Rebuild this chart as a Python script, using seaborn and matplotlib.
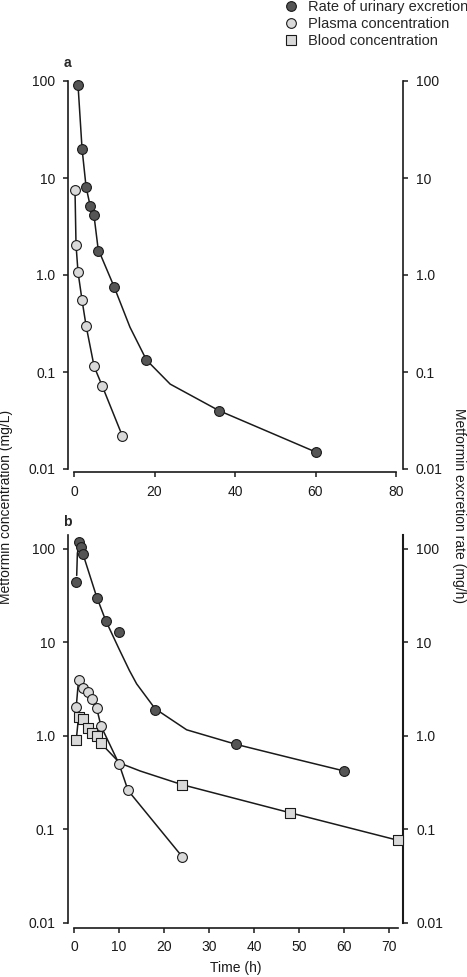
import numpy as np
import pandas as pd
import seaborn as sns
import matplotlib.pyplot as plt
from matplotlib.lines import Line2D
from matplotlib.ticker import FixedLocator, FixedFormatter, NullLocator

# ---- panel a : measured points
a_urine_t = [1, 2, 3, 4, 5, 6, 10, 18, 36, 60]
a_urine_rate = [91, 20, 8.1, 5.2, 4.2, 1.78, 0.75, 0.133, 0.040, 0.015]
a_plasma_t = [0.25, 0.5, 1, 2, 3, 5, 7, 12]
a_plasma_conc = [7.5, 2.05, 1.07, 0.55, 0.30, 0.114, 0.072, 0.022]
# panel a : fitted curve
a_urine_fit_t = [1, 2, 3, 4, 5, 6, 10, 13.9, 18, 23.9, 36, 60]
a_urine_fit = [91, 20, 8.1, 5.2, 4.0, 1.85, 0.75, 0.29, 0.133, 0.075, 0.040, 0.015]

# ---- panel b : measured points
b_urine_t = [0.5, 1, 1.5, 2, 5, 7, 10, 18, 36, 60]
b_urine_rate = [44, 120, 104, 88, 30, 17, 13, 1.9, 0.81, 0.42]
b_plasma_t = [0.5, 1, 2, 3, 4, 5, 6, 10, 12, 24]
b_plasma_conc = [2.05, 3.95, 3.24, 2.96, 2.45, 2.0, 1.27, 0.50, 0.26, 0.051]
b_blood_t = [0.5, 1, 2, 3, 4, 5, 6, 24, 48, 72]
b_blood_conc = [0.90, 1.59, 1.50, 1.20, 1.06, 1.0, 0.83, 0.30, 0.15, 0.076]
# panel b : fitted curves
b_urine_fit_t = [0.6, 0.75, 1.2, 2, 5, 7, 10, 12.3, 13.9, 18, 25, 36, 49.4, 60]
b_urine_fit = [52, 90, 118, 88, 31, 17.3, 8.5, 5.0, 3.6, 1.95, 1.16, 0.81, 0.56, 0.42]
b_blood_fit_t = [0.5, 1, 2, 3, 4, 5, 6, 10.2, 14.7, 24, 48, 72]
b_blood_fit = [0.9, 1.59, 1.5, 1.2, 1.06, 1.0, 0.83, 0.51, 0.42, 0.30, 0.15, 0.076]

ytick_vals = [0.01, 0.1, 1, 10, 100]
ytick_labels = ["0.01", "0.1", "1.0", "10", "100"]

DARK = "#555555"
LIGHT = "#d9d9d9"
EDGE = "#1a1a1a"

sns.set_style("ticks")
plt.rcParams['font.family'] = ['Liberation Sans', 'DejaVu Sans']
plt.rcParams['axes.linewidth'] = 1.2

W, H = 467, 977
fig = plt.figure(figsize=(W / 100, H / 100), dpi=100)


def px_axes(left, right, top, bottom):
    return fig.add_axes([left / W, 1 - bottom / H, (right - left) / W, (bottom - top) / H])


def style(ax, xlim, ylim, xticks, out_left, out_bottom, out_right, ybounds):
    ax.set_yscale('log')
    ax.set_xlim(*xlim)
    ax.set_ylim(*ylim)
    ax.yaxis.set_major_locator(FixedLocator(ytick_vals))
    ax.yaxis.set_major_formatter(FixedFormatter(ytick_labels))
    ax.yaxis.set_minor_locator(NullLocator())
    ax.set_xticks(xticks)
    ax.spines['top'].set_visible(False)
    ax.spines['left'].set_position(('outward', out_left))
    ax.spines['bottom'].set_position(('outward', out_bottom))
    ax.spines['right'].set_position(('outward', out_right))
    ax.spines['left'].set_bounds(*ybounds)
    ax.spines['right'].set_bounds(*ybounds)
    ax.spines['bottom'].set_bounds(xlim[0], xlim[1])
    for s in ('left', 'right', 'bottom'):
        ax.spines[s].set_color('#1a1a1a')
    ax.tick_params(axis='both', direction='out', length=3.6, width=1.1, pad=5.5,
                   labelsize=10, colors='#1a1a1a')
    ax.tick_params(axis='y', right=True, labelright=True)
    ax.set_xlabel("")
    ax.set_ylabel("")
    ax.patch.set_alpha(0)


def curve(ax, t, v):
    sns.lineplot(x=t, y=v, ax=ax, color=EDGE, linewidth=1.1, estimator=None, sort=False, zorder=2)


def points(ax, t, v, marker, fill):
    sns.scatterplot(x=t, y=v, ax=ax, marker=marker, s=50, color=fill, edgecolor=EDGE,
                    linewidth=0.8, zorder=3, legend=False, clip_on=False)


# ---- panel a
ax_a = px_axes(74, 396, 81, 469)
ax_a.set_yscale('log')
curve(ax_a, a_urine_fit_t, a_urine_fit)
curve(ax_a, a_plasma_t, a_plasma_conc)
points(ax_a, a_urine_t, a_urine_rate, 'o', DARK)
points(ax_a, a_plasma_t, a_plasma_conc, 'o', LIGHT)
style(ax_a, (0, 80), (0.01, 100), [0, 20, 40, 60, 80], 4.3, 2.2, 5.0, (0.01, 100))

# ---- panel b
ax_b = px_axes(74, 398.4, 535, 922.7)
ax_b.set_yscale('log')
curve(ax_b, b_urine_fit_t, b_urine_fit)
curve(ax_b, b_plasma_t, b_plasma_conc)
curve(ax_b, b_blood_fit_t, b_blood_fit)
points(ax_b, b_urine_t, b_urine_rate, 'o', DARK)
points(ax_b, b_plasma_t, b_plasma_conc, 'o', LIGHT)
points(ax_b, b_blood_t, b_blood_conc, 's', LIGHT)
style(ax_b, (0, 72), (0.01, 141), [0, 10, 20, 30, 40, 50, 60, 70], 4.5, 3.6, 3.6, (0.01, 141))
ax_b.spines['right'].set_linewidth(1.5)

# panel letters
fig.text(67 / W, 1 - 63 / H, "a", fontsize=10, fontweight='bold', ha='center', va='center')
fig.text(67 / W, 1 - 522 / H, "b", fontsize=10, fontweight='bold', ha='center', va='center')

# axis labels
fig.text(6 / W, 1 - 507 / H, "Metformin concentration (mg/L)", rotation=90,
         fontsize=10, ha='center', va='center', color='#1a1a1a')
fig.text(459 / W, 1 - 505 / H, "Metformin excretion rate (mg/h)", rotation=270,
         fontsize=10, ha='center', va='center', color='#1a1a1a')
fig.text(236 / W, 1 - 968 / H, "Time (h)", fontsize=10, ha='center', va='center',
         color='#1a1a1a')

# legend
handles = [
    Line2D([], [], linestyle='none', marker='o', markersize=7, markerfacecolor=DARK,
           markeredgecolor=EDGE, markeredgewidth=0.8),
    Line2D([], [], linestyle='none', marker='o', markersize=7, markerfacecolor=LIGHT,
           markeredgecolor=EDGE, markeredgewidth=0.8),
    Line2D([], [], linestyle='none', marker='s', markersize=7, markerfacecolor=LIGHT,
           markeredgecolor=EDGE, markeredgewidth=0.8),
]
labels = ["Rate of urinary excretion", "Plasma concentration", "Blood concentration"]
fig.legend(handles, labels, loc='upper left', bbox_to_anchor=(284.0 / W, 1.0),
           frameon=False, borderaxespad=0, borderpad=0, handlelength=1.0,
           handletextpad=0.62, labelspacing=0.22, fontsize=10.5)

fig.savefig("out.png", dpi=100)
